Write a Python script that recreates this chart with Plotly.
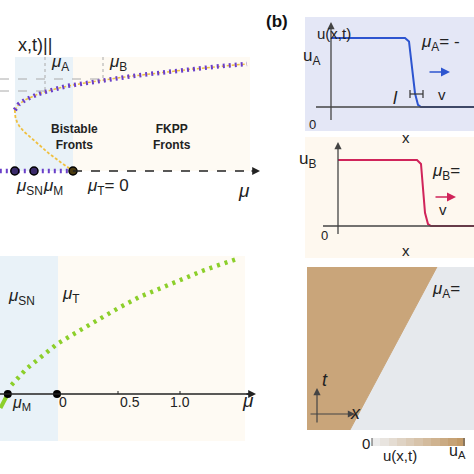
import plotly.graph_objects as go

W = H = 474
def px(x): return x / W
def py(y): return 1 - y / H

# ---- data (top-left: bifurcation diagram) ----
mu_upper = [-0.97, -0.9, -0.8, -0.7, -0.6, -0.5, -0.4, -0.3, -0.2, -0.1, 0, 0.2, 0.4, 0.6, 0.8,
            1.0, 1.2, 1.4, 1.6, 1.8, 2.0, 2.2, 2.4, 2.6, 2.9]
amp_upper = [1.22, 1.34, 1.42, 1.48, 1.53, 1.57, 1.61, 1.64, 1.67, 1.70, 1.72, 1.76, 1.80, 1.84, 1.87,
             1.90, 1.93, 1.96, 1.99, 2.01, 2.04, 2.06, 2.09, 2.11, 2.14]
mu_lower = [-0.97, -0.96, -0.93, -0.88, -0.8, -0.6, -0.4, -0.2, 0]
amp_lower = [1.22, 1.08, 0.97, 0.87, 0.77, 0.55, 0.35, 0.17, 0]
mu_zero = [-1.22, 0]
amp_zero = [0, 0]
mu_special = [-0.97, -0.65, 0]           # mu_SN, mu_M, mu_T

# ---- bottom-left: front speed ----
mu_speed = [-0.37, -0.25, -0.12, 0, 0.15, 0.35, 0.5, 0.67, 0.85, 1.0, 1.2, 1.46]
speed = [0.09, 0.25, 0.38, 0.50, 0.61, 0.76, 0.86, 0.97, 1.06, 1.14, 1.24, 1.35]
mu_speed_solid = [-0.46, -0.40]
speed_solid = [-0.14, 0]
mu_dots2 = [-0.40, 0]

# ---- right: front profiles ----
xA = [0, 0.74, 0.78, 0.81, 0.84, 0.87, 0.90, 1.43]
uA = [1, 1, 0.95, 0.6, 0.2, 0.03, 0, 0]
xB = [0, 0.79, 0.83, 0.85, 0.87, 0.9, 0.93, 1.36]
uB = [1, 1, 0.94, 0.6, 0.2, 0.03, 0, 0]
front_x = [0, 0.257, 0.778, 0]
front_t = [0, 0, 1, 1]
cbar_levels = [0, 0.1, 0.2, 0.3, 0.4, 0.5, 0.6, 0.7, 0.8, 0.9, 1.0]

fig = go.Figure()
purple = "#6a3fc9"
yellow = "#f0c040"
green = "#8ccf2a"
FONT = "Liberation Sans"

# top-left
fig.add_trace(go.Scatter(x=mu_upper, y=amp_upper, mode="lines", line=dict(color=yellow, width=1.5, dash="3px,2px"), xaxis="x", yaxis="y"))
fig.add_trace(go.Scatter(x=mu_lower, y=amp_lower, mode="lines", line=dict(color=yellow, width=1.8, dash="3px,2px"), xaxis="x", yaxis="y"))
fig.add_trace(go.Scatter(x=mu_upper, y=amp_upper, mode="lines", line=dict(color=purple, width=4.5, dash="2px,4px"), xaxis="x", yaxis="y"))
fig.add_trace(go.Scatter(x=mu_zero, y=amp_zero, mode="lines", line=dict(color=purple, width=4.5, dash="2px,4px"), xaxis="x", yaxis="y"))
fig.add_trace(go.Scatter(x=mu_special, y=[0, 0, 0], mode="markers",
                         marker=dict(size=8, color=["#3a2a6a", "#3a2a6a", "#4a3a10"], line=dict(color="black", width=1.5)),
                         xaxis="x", yaxis="y"))
# bottom-left
fig.add_trace(go.Scatter(x=mu_speed, y=speed, mode="lines", line=dict(color=green, width=4.5, dash="3px,5px"), xaxis="x2", yaxis="y2"))
fig.add_trace(go.Scatter(x=mu_speed_solid, y=speed_solid, mode="lines", line=dict(color=green, width=4), xaxis="x2", yaxis="y2"))
fig.add_trace(go.Scatter(x=mu_dots2, y=[0, 0], mode="markers", marker=dict(size=8, color="black"), xaxis="x2", yaxis="y2"))
# right profiles
fig.add_trace(go.Scatter(x=xA, y=uA, mode="lines", line=dict(color="#2d55d0", width=2), xaxis="x3", yaxis="y3"))
fig.add_trace(go.Scatter(x=xB, y=uB, mode="lines", line=dict(color="#d0245a", width=2), xaxis="x4", yaxis="y4"))
# space-time
fig.add_trace(go.Scatter(x=front_x, y=front_t, mode="lines", fill="toself", fillcolor="#c9a57a",
                         line=dict(color="#c9a57a", width=1), xaxis="x5", yaxis="y5"))
fig.add_trace(go.Heatmap(z=[cbar_levels], colorscale=[[0, "#ececec"], [1, "#c29a68"]], showscale=False,
                         xaxis="x6", yaxis="y6"))

def ax(d0, d1, r):
    return dict(domain=[d0, d1], range=r, visible=False, fixedrange=True)

lay = dict(
    width=W, height=H, margin=dict(l=0, r=0, t=0, b=0, autoexpand=False), showlegend=False,
    paper_bgcolor="white", plot_bgcolor="rgba(0,0,0,0)",
    xaxis=ax(px(0), px(260), [-73/60, (260-73)/60]),
    yaxis=ax(py(200), py(20), [-29/50, 151/50]),
    xaxis2=ax(px(0), px(260), [-57/123, 203/123]),
    yaxis2=ax(py(450), py(250), [-56/100, 144/100]),
    xaxis3=ax(px(305), px(474), [-0.26, 1.43]),
    yaxis3=ax(py(131), py(17), [-24/69, 90/69]),
    xaxis4=ax(px(305), px(474), [-0.33, 1.36]),
    yaxis4=ax(py(258), py(137), [-32/66, 89/66]),
    xaxis5=ax(px(307), px(474), [0, 1]),
    yaxis5=ax(py(430), py(267), [0, 1]),
    xaxis6=ax(px(372), px(465), [-0.5, 10.5]),
    yaxis6=ax(py(446), py(438), [-0.5, 0.5]),
)
for k in ["xaxis2", "xaxis3", "xaxis4", "xaxis5", "xaxis6"]:
    lay[k]["anchor"] = "y" + k[-1]
for k in ["yaxis2", "yaxis3", "yaxis4", "yaxis5", "yaxis6"]:
    lay[k]["anchor"] = "x" + k[-1]
fig.update_layout(**lay)

shapes = []
def rect(x0, y0, x1, y1, color):
    shapes.append(dict(type="rect", xref="paper", yref="paper", x0=px(x0), x1=px(x1), y0=py(y1), y1=py(y0),
                       fillcolor=color, line=dict(width=0), layer="below"))
def line(x0, y0, x1, y1, color="#333", width=1.3, dash="solid"):
    shapes.append(dict(type="line", xref="paper", yref="paper", x0=px(x0), x1=px(x1), y0=py(y0), y1=py(y1),
                       line=dict(color=color, width=width, dash=dash)))

# backgrounds
rect(15, 57, 73, 171, "#e9f2f8")
rect(73, 57, 250, 171, "#fefaf3")
rect(0, 256, 58, 441, "#e9f2f8")
rect(58, 256, 245, 441, "#fefaf3")
rect(305, 17, 474, 131, "#e4e7f6")
rect(305, 137, 474, 258, "#fef8ef")
rect(307, 267, 474, 430, "#e6e9ed")
# top-left guides
line(45, 57, 45, 91, "#aaa", 1, "dot")
line(103, 57, 103, 79, "#aaa", 1, "dot")
line(0, 79, 103, 79, "#aaa", 1, "dash")
line(0, 91, 45, 91, "#aaa", 1, "dash")
# axes
line(73, 171, 255, 171, "#222", 1.5, "dash")
line(0, 394, 252, 394, "#222", 1.5)
line(118, 394, 118, 391, "#222", 1)
line(180, 394, 180, 391, "#222", 1)
line(316, 107, 474, 107, "#444", 1.3)
line(331, 120, 331, 26, "#444", 1.3)
line(323, 226, 474, 226, "#444", 1.3)
line(338, 234, 338, 146, "#444", 1.3)
line(410, 94, 423, 94, "#333", 1.2)
line(410, 90, 410, 98, "#333", 1.2)
line(423, 90, 423, 98, "#333", 1.2)
line(372, 438, 372, 446, "#555", 1)
line(464, 438, 464, 446, "#555", 1)
fig.update_layout(shapes=shapes)

ann = []
def text(x, y, s, size=13, color="#222"):
    ann.append(dict(xref="paper", yref="paper", x=px(x), y=py(y), text=s, showarrow=False,
                    font=dict(size=size, color=color, family=FONT)))
def arrow(x0, y0, x1, y1, color="#222", width=1.3):
    ann.append(dict(xref="paper", yref="paper", axref="pixel", ayref="pixel", x=px(x1), y=py(y1),
                    ax=x0 - x1, ay=y0 - y1,
                    text="", showarrow=True, arrowhead=2, arrowsize=1.2, arrowwidth=width, arrowcolor=color))

text(277, 10, "<b>(b)</b>", 17, "#111")
text(16, 33, "x,t)||", 18)
text(49, 50, "<i>μ</i><sub>A</sub>", 17)
text(107, 50, "<i>μ</i><sub>B</sub>", 17)
text(49, 120, "<b>Bistable<br>Fronts</b>", 12)
text(172, 120, "<b>FKPP<br>Fronts</b>", 12)
text(14, 187, "<i>μ</i><sub>SN</sub>", 17)
text(41, 187, "<i>μ</i><sub>M</sub>", 17)
text(85, 187, "<i>μ</i><sub>T</sub>= 0", 17)
text(244, 190, "<i>μ</i>", 19)
arrow(250, 171, 260, 171)
# bottom-left
text(6, 297, "<i>μ</i><sub>SN</sub>", 17)
text(60, 295, "<i>μ</i><sub>T</sub>", 17)
text(10, 415, "<i>μ</i><sub>M</sub>", 16)
text(57, 412, "0", 14)
text(118, 412, "0.5", 14)
text(180, 412, "1.0", 14)
text(248, 413, "<i>μ</i>", 19)
arrow(245, 394, 256, 394)
# right panel A
arrow(331, 30, 331, 22, "#444", 1.2)
text(353, 23, "u(x,t)", 15)
text(311, 44, "u<sub>A</sub>", 17)
text(318, 115, "0", 13)
text(412, 127, "x", 15)
text(400, 86, "<i>l</i>", 18)
arrow(428, 72, 450, 72, "#2d55d0", 1.5)
text(448, 84, "v", 15)
text(462, 30, "<i>μ</i><sub>A</sub>= -", 17)
# right panel B
arrow(338, 150, 338, 142, "#444", 1.2)
text(318, 160, "u<sub>B</sub>", 17)
text(330, 235, "0", 13)
text(412, 250, "x", 15)
arrow(434, 197, 456, 197, "#d0245a", 1.5)
text(449, 210, "v", 15)
text(462, 172, "<i>μ</i><sub>B</sub>=", 17)
# space-time
text(462, 290, "<i>μ</i><sub>A</sub>=", 17)
arrow(317, 424, 317, 388, "#444", 1.2)
arrow(309, 414, 355, 414, "#444", 1.2)
text(330, 392, "<i>t</i>", 18)
text(363, 425, "<i>x</i>", 18)
text(372, 454, "0", 15)
text(419, 466, "u(x,t)", 15)
text(468, 463, "u<sub>A</sub>", 16)
fig.update_layout(annotations=ann)

fig.write_html("out.html", config={"displayModeBar": False},
               post_script="document.body.style.margin='0';document.body.style.overflow='hidden';")
